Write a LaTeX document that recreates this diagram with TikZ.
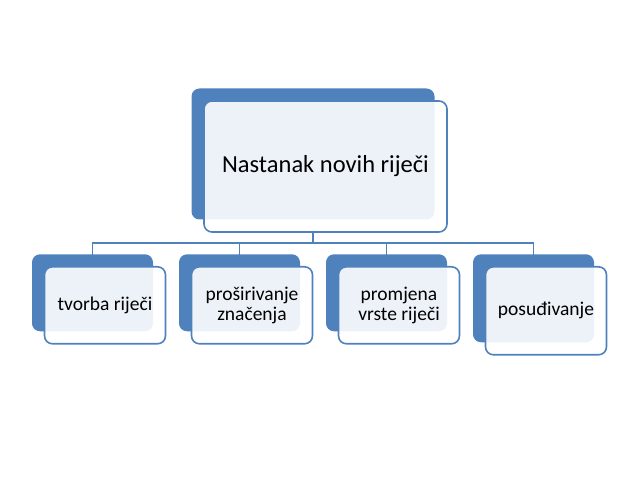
\documentclass[tikz,border=0pt]{standalone}
\usepackage{fontspec}
\setmainfont{Carlito}
\usetikzlibrary{shadows}
\definecolor{rblue}{HTML}{4F81BD}

\begin{document}
\begin{tikzpicture}[x=1pt,y=1pt,
  box/.style={rectangle,rounded corners=8pt,draw=rblue,line width=1.6pt,fill=white,fill opacity=0.9,text opacity=1,
    general shadow={fill=rblue,fill opacity=1,draw=none,shadow xshift=-12.5pt,shadow yshift=12.5pt},inner sep=2pt,align=center},
  leaf/.style={anchor=north,minimum width=121pt,minimum height=77pt,font=\fontsize{19.5}{20.5}\selectfont},
  level 1/.style={sibling distance=147pt,level distance=99.5pt},
  edge from parent/.style={draw=rblue,line width=1.6pt},
  edge from parent path={([xshift=-12.5pt]\tikzparentnode.south) -- ++(0,-10) -| ([xshift=-12.5pt]\tikzchildnode.north)}]
\useasboundingbox (0,0) rectangle (638,-478);
\node [box,minimum width=243pt,minimum height=131pt,font=\fontsize{24.5}{29}\selectfont] (nastanak) at (325.5,-166.5) {Nastanak novih riječi}
    child {
  node [box,leaf] (tvorba) {tvorba riječi}
  }
    child {
  node [box,leaf] (prosirivanje) {proširivanje\\značenja}
  }
    child {
  node [box,leaf] (promjena) {promjena\\vrste riječi}
  }
    child {
  node [box,leaf,minimum height=88pt] (posudivanje) {posuđivanje}
  };
\end{tikzpicture}
\end{document}
